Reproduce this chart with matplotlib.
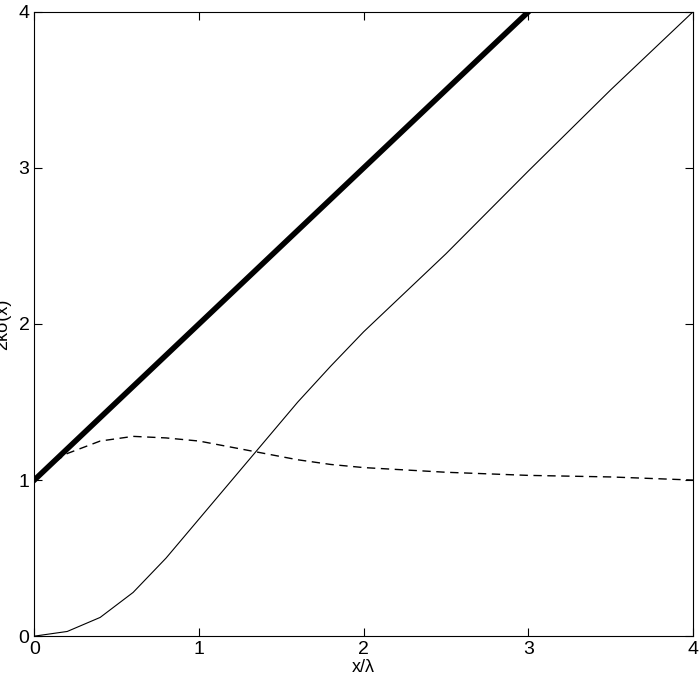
import matplotlib.pyplot as plt

plt.rcParams['font.family'] = ['Liberation Sans', 'DejaVu Sans']

# thick straight line
thick_x = [0, 3.0]
thick_y = [1.0, 4.0]

# dashed curve
dash_x = [0, 0.1, 0.2, 0.4, 0.6, 0.8, 1.0, 1.2, 1.4, 1.6, 1.8, 2.0, 2.5, 3.0, 3.5, 4.0]
dash_y = [1.0, 1.1, 1.17, 1.25, 1.28, 1.27, 1.25, 1.21, 1.17, 1.13, 1.1, 1.08, 1.05, 1.03, 1.02, 1.0]

# thin solid curve
thin_x = [0, 0.2, 0.4, 0.6, 0.8, 1.0, 1.2, 1.4, 1.6, 1.8, 2.0, 2.5, 3.0, 3.5, 4.0]
thin_y = [0, 0.03, 0.12, 0.28, 0.5, 0.75, 1.0, 1.25, 1.5, 1.73, 1.95, 2.45, 2.98, 3.5, 4.0]

fig = plt.figure(figsize=(7, 6.96), dpi=100)
ax = fig.add_axes([0.049, 0.086, 0.941, 0.897])

ax.plot(thick_x, thick_y, color='black', lw=4)
ax.plot(dash_x, dash_y, color='black', lw=1, ls=(0, (6, 4)))
ax.plot(thin_x, thin_y, color='black', lw=0.8)

ax.set_xlim(0, 4)
ax.set_ylim(0, 4)
ax.set_xticks([0, 1, 2, 3, 4])
ax.set_yticks([0, 1, 2, 3, 4])
ax.tick_params(direction='in', top=True, right=True, length=6, labelsize=14)
ax.set_xlabel('x/λ', fontsize=13, labelpad=1)
ax.set_ylabel('2kσ(x)', fontsize=13, labelpad=0)
ax.yaxis.set_label_coords(-0.035, 0.5)

fig.savefig('out.png')
